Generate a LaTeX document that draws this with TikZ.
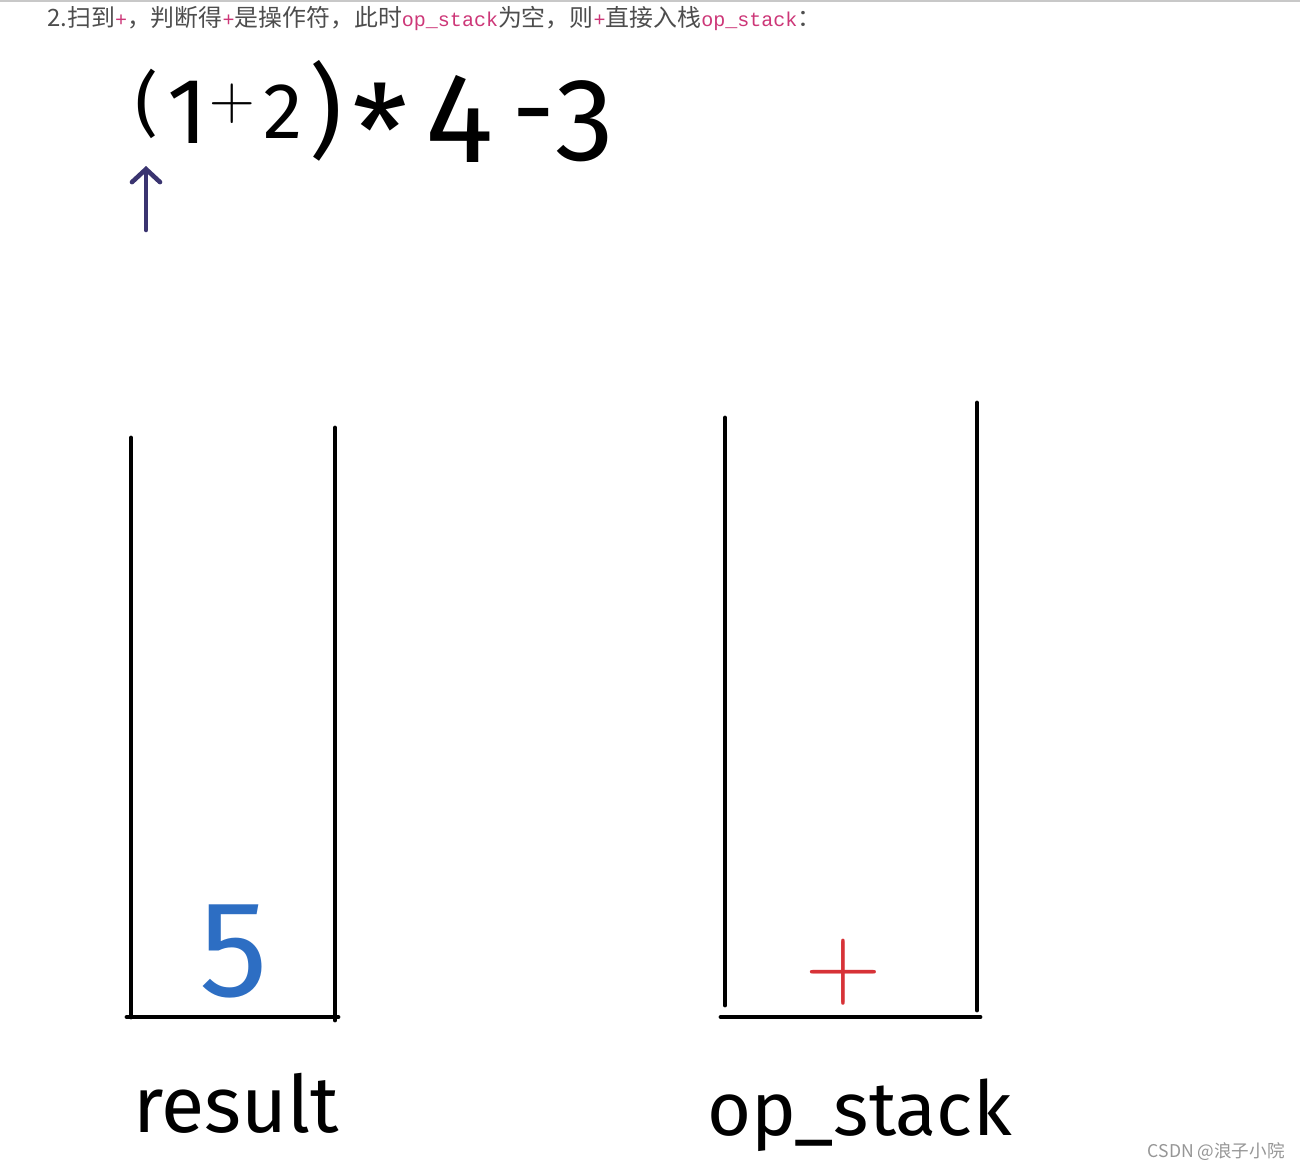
\documentclass[tikz,border=0pt]{standalone}
\usepackage{fontspec}
\setmainfont{Fira Sans}
\newfontfamily\cjk{Noto Sans CJK SC}
\newfontfamily\codefont{Liberation Mono}
\newfontfamily\lmfont{Latin Modern Roman}
\usetikzlibrary{arrows.meta}
\definecolor{hdr}{RGB}{77,77,77}
\definecolor{codepink}{RGB}{205,55,120}
\definecolor{arrowblue}{RGB}{58,52,112}
\definecolor{fiveblue}{RGB}{45,110,195}
\definecolor{plusred}{RGB}{215,50,55}
\definecolor{wmgray}{RGB}{150,150,150}
\definecolor{toplinegray}{RGB}{200,200,200}
\newcommand{\codetxt}[1]{{\codefont\fontsize{11.4}{13}\selectfont\color{codepink}#1}}
\tikzset{
  hw/.style={inner sep=0pt, outer sep=0pt, text=black, anchor=south},
  wall/.style={line width=2.8pt, line cap=round, black},
  lbl/.style={inner sep=0pt, outer sep=0pt, anchor=base west, text=black}
}
\begin{document}
\begin{tikzpicture}[x=0.02cm, y=-0.02cm]
\useasboundingbox (0,0) rectangle (1300,1170);
\fill[white] (0,0) rectangle (1300,1170);
\draw[toplinegray, line width=0.04cm] (0,1) -- (1300,1);

% header
\node[inner sep=0pt, anchor=base west, text=hdr, font=\cjk\fontsize{13.6}{15}\selectfont] (header) at (47,26)
 {2.扫到\codetxt{+}，判断得\codetxt{+}是操作符，此时\codetxt{op\_stack}为空，则\codetxt{+}直接入栈\codetxt{op\_stack}：};

% expression
\node[hw, font=\fontsize{40}{45}\selectfont] (e1) at (147,139) {(};
\node[hw, font=\fontsize{53}{60}\selectfont] (e2) at (188,143) {1};
\node[hw, font=\lmfont\fontsize{36}{40}\selectfont] (e3) at (232,124) {+};
\node[hw, font=\fontsize{45}{50}\selectfont] (e4) at (283,138) {2};
\node[hw, font=\fontsize{58}{65}\selectfont] (e5) at (326,161) {)};
\node[hw, font=\fontsize{72}{80}\selectfont] (e6) at (380,176) {*};
\node[hw, font=\fontsize{73}{80}\selectfont] (e7) at (460,162) {4};
\node[hw, font=\fontsize{60}{70}\selectfont] (e8) at (534,145) {-};
\node[hw, font=\fontsize{67}{75}\selectfont] (e9) at (585,162) {3};

% pointer arrow
\coordinate (arrS) at (146,230);
\coordinate (arrE) at (146,166);
\draw[arrowblue, line width=2.6pt, line cap=round, -{Straight Barb[length=0.26cm, width=0.56cm, line cap=round]}] (arrS) -- (arrE);

% result stack
\draw[wall] (131,438) -- (131,1017);
\draw[wall] (335,428) -- (335,1020);
\draw[wall] (127,1017) -- (338,1017);
\node[hw, text=fiveblue, font=\fontsize{78}{85}\selectfont] (five) at (234,998) {5};
\node[lbl, font=\fontsize{45}{50}\selectfont] (reslbl) at (133,1132) {result};

% op_stack
\draw[wall] (725,418) -- (725,1005);
\draw[wall] (977,403) -- (977,1010);
\draw[wall] (721,1017) -- (980,1017);
\node[hw, text=plusred, font=\lmfont\fontsize{60}{66}\selectfont] (plus) at (843,1005) {+};
\node[lbl, font=\fontsize{43}{50}\selectfont] (oplbl) at (707,1135) {op\_stack};

% watermark
\node[inner sep=0pt, anchor=base east, text=wmgray, font=\cjk\fontsize{10}{12}\selectfont] (wm) at (1285,1157) {CSDN @浪子小院};
\end{tikzpicture}
\end{document}
